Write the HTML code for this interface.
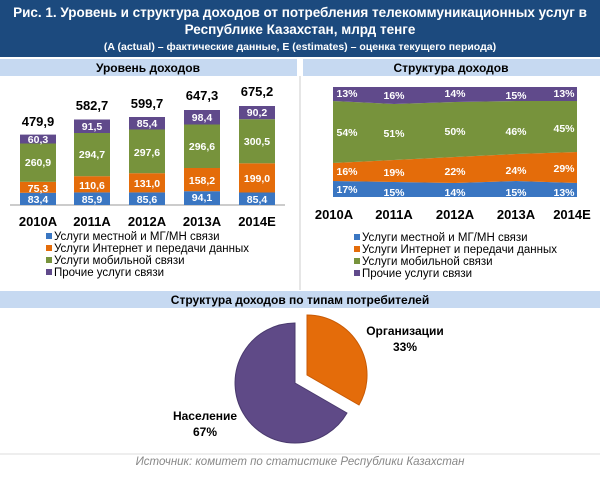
<!DOCTYPE html>
<html><head><meta charset="utf-8"><style>
body{margin:0;width:600px;height:473px;overflow:hidden;background:#fff}
svg text{font-family:"Liberation Sans","DejaVu Sans",sans-serif}
</style></head><body>
<svg width="600" height="473" viewBox="0 0 600 473">
<rect x="0" y="0" width="600" height="57" fill="#1c4a7e"/>
<g fill="#fff" font-weight="bold" text-anchor="middle">
<text x="300" y="17" font-size="13.5">Рис. 1. Уровень и структура доходов от потребления телекоммуникационных услуг в</text>
<text x="300" y="34" font-size="13.5">Республике Казахстан, млрд тенге</text>
<text x="300" y="50" font-size="10.5">(A (actual) – фактические данные, E (estimates) – оценка текущего периода)</text>
</g>
<rect x="0" y="59" width="297" height="17" fill="#c6d9f1"/>
<rect x="303" y="59" width="297" height="17" fill="#c6d9f1"/>
<text x="148" y="72" font-size="12" font-weight="bold" text-anchor="middle">Уровень доходов</text>
<text x="451" y="72" font-size="12" font-weight="bold" text-anchor="middle">Структура доходов</text>
<line x1="300" y1="76" x2="300" y2="290" stroke="#ccc"/>

<!-- bars -->
<g font-size="10.5" font-weight="bold" fill="#fff" text-anchor="middle">
<line x1="10" y1="205" x2="285" y2="205" stroke="#999"/>
<!-- 2010 -->
<rect x="20" y="192.8" width="36" height="12.2" fill="#3a76c2"/>
<rect x="20" y="181.8" width="36" height="11" fill="#e46c0a"/>
<rect x="20" y="143.5" width="36" height="38.3" fill="#77933c"/>
<rect x="20" y="134.6" width="36" height="8.9" fill="#604a8b"/>
<text x="38" y="203">83,4</text><text x="38" y="192">75,3</text><text x="38" y="166">260,9</text><text x="38" y="143">60,3</text>
<!-- 2011 -->
<rect x="74" y="192.4" width="36" height="12.6" fill="#3a76c2"/>
<rect x="74" y="176.2" width="36" height="16.2" fill="#e46c0a"/>
<rect x="74" y="133" width="36" height="43.2" fill="#77933c"/>
<rect x="74" y="119.5" width="36" height="13.5" fill="#604a8b"/>
<text x="92" y="203">85,9</text><text x="92" y="189">110,6</text><text x="92" y="158">294,7</text><text x="92" y="130">91,5</text>
<!-- 2012 -->
<rect x="129" y="192.4" width="36" height="12.6" fill="#3a76c2"/>
<rect x="129" y="173.2" width="36" height="19.2" fill="#e46c0a"/>
<rect x="129" y="129.5" width="36" height="43.7" fill="#77933c"/>
<rect x="129" y="117" width="36" height="12.5" fill="#604a8b"/>
<text x="147" y="203">85,6</text><text x="147" y="187">131,0</text><text x="147" y="156">297,6</text><text x="147" y="127">85,4</text>
<!-- 2013 -->
<rect x="184" y="191.2" width="36" height="13.8" fill="#3a76c2"/>
<rect x="184" y="168" width="36" height="23.2" fill="#e46c0a"/>
<rect x="184" y="124.5" width="36" height="43.5" fill="#77933c"/>
<rect x="184" y="110" width="36" height="14.5" fill="#604a8b"/>
<text x="202" y="201">94,1</text><text x="202" y="184">158,2</text><text x="202" y="150">296,6</text><text x="202" y="121">98,4</text>
<!-- 2014 -->
<rect x="239" y="192.5" width="36" height="12.5" fill="#3a76c2"/>
<rect x="239" y="163.3" width="36" height="29.2" fill="#e46c0a"/>
<rect x="239" y="119.2" width="36" height="44.1" fill="#77933c"/>
<rect x="239" y="106" width="36" height="13.2" fill="#604a8b"/>
<text x="257" y="203">85,4</text><text x="257" y="182">199,0</text><text x="257" y="145">300,5</text><text x="257" y="116">90,2</text>
</g>
<g font-size="13" font-weight="bold" text-anchor="middle" fill="#000">
<text x="38" y="126">479,9</text><text x="92" y="110">582,7</text><text x="147" y="108">599,7</text><text x="202" y="100">647,3</text><text x="257" y="96">675,2</text>
<text x="38" y="226">2010A</text><text x="92" y="226">2011A</text><text x="147" y="226">2012A</text><text x="202" y="226">2013A</text><text x="257" y="226">2014E</text>
</g>

<!-- area -->
<polygon points="333,197 333,181 394,182 455,183 516,181 577,183 577,197" fill="#3a76c2"/>
<polygon points="333,181 333,163 394,160 455,157 516,154 577,152 577,183 516,181 455,183 394,182" fill="#e46c0a"/>
<polygon points="333,163 333,101 394,104 455,102 516,101 577,101 577,152 516,154 455,157 394,160" fill="#77933c"/>
<polygon points="333,101 333,87 577,87 577,101 516,101 455,102 394,104" fill="#604a8b"/>
<g font-size="10.5" font-weight="bold" fill="#fff" text-anchor="middle">
<text x="347" y="97">13%</text><text x="394" y="99">16%</text><text x="455" y="97">14%</text><text x="516" y="99">15%</text><text x="564" y="97">13%</text>
<text x="347" y="136">54%</text><text x="394" y="137">51%</text><text x="455" y="135">50%</text><text x="516" y="135">46%</text><text x="564" y="132">45%</text>
<text x="347" y="175">16%</text><text x="394" y="176">19%</text><text x="455" y="175">22%</text><text x="516" y="174">24%</text><text x="564" y="172">29%</text>
<text x="347" y="193">17%</text><text x="394" y="196">15%</text><text x="455" y="196">14%</text><text x="516" y="196">15%</text><text x="564" y="196">13%</text>
</g>
<g font-size="13" font-weight="bold" text-anchor="middle">
<text x="334" y="219">2010A</text><text x="394" y="219">2011A</text><text x="455" y="219">2012A</text><text x="516" y="219">2013A</text><text x="572" y="219">2014E</text>
</g>

<!-- legends -->
<g font-size="11.5" fill="#000">
<rect x="46" y="233" width="6" height="6" fill="#3a76c2"/><text x="54" y="240">Услуги местной и МГ/МН связи</text>
<rect x="46" y="245" width="6" height="6" fill="#e46c0a"/><text x="54" y="252">Услуги Интернет и передачи данных</text>
<rect x="46" y="257" width="6" height="6" fill="#77933c"/><text x="54" y="264">Услуги мобильной связи</text>
<rect x="46" y="269" width="6" height="6" fill="#604a8b"/><text x="54" y="276">Прочие услуги связи</text>
<rect x="354" y="234" width="6" height="6" fill="#3a76c2"/><text x="362" y="241">Услуги местной и МГ/МН связи</text>
<rect x="354" y="246" width="6" height="6" fill="#e46c0a"/><text x="362" y="253">Услуги Интернет и передачи данных</text>
<rect x="354" y="258" width="6" height="6" fill="#77933c"/><text x="362" y="265">Услуги мобильной связи</text>
<rect x="354" y="270" width="6" height="6" fill="#604a8b"/><text x="362" y="277">Прочие услуги связи</text>
</g>

<rect x="0" y="291" width="600" height="17" fill="#c6d9f1"/>
<text x="300" y="304" font-size="12" font-weight="bold" text-anchor="middle">Структура доходов по типам потребителей</text>

<!-- pie -->
<path d="M295,383 L347,413 A60,60 0 1 1 295,323 Z" fill="#5f4a87" stroke="#4a3a6e" stroke-width="1"/>
<path d="M307,375 L307,315 A60,60 0 0 1 359,405 Z" fill="#e46c0a" stroke="#c85a05" stroke-width="1"/>
<g font-size="12" font-weight="bold" text-anchor="middle">
<text x="405" y="335">Организации</text><text x="405" y="351">33%</text>
<text x="205" y="420">Население</text><text x="205" y="436">67%</text>
</g>
<line x1="0" y1="454" x2="600" y2="454" stroke="#ddd"/>
<text x="300" y="465" font-size="11.5" font-style="italic" fill="#888" text-anchor="middle">Источник: комитет по статистике Республики Казахстан</text>
</svg>
</body></html>
